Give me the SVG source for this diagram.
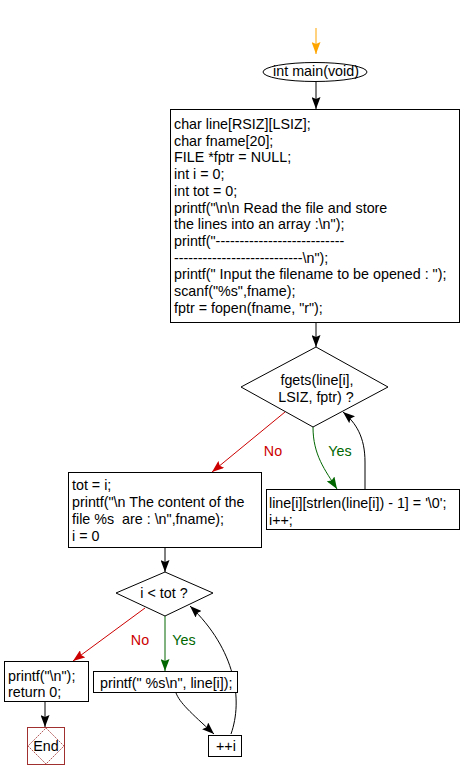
<svg xmlns="http://www.w3.org/2000/svg" width="462" height="780" viewBox="0 0 462 780">
<style>
text{font-family:"Liberation Sans",Arial,sans-serif;font-size:14.3px;fill:#000;white-space:pre}
.box{fill:#fff;stroke:#000;stroke-width:1}
.c{fill:none;stroke-width:1}
.k{stroke:#000}
.r{stroke:#cc0000}
.g{stroke:#006600}
.o{stroke:#ffa500}
.lr{fill:#cc0000}
.lg{fill:#006600}
.mid{text-anchor:middle}
</style>
<defs>
<marker id="ak" markerUnits="userSpaceOnUse" markerWidth="13" markerHeight="9" refX="12" refY="4.5" orient="auto"><path d="M0,0 L12,4.5 L0,9 L2,4.5 z" fill="#000"/></marker>
<marker id="ar" markerUnits="userSpaceOnUse" markerWidth="13" markerHeight="9" refX="12" refY="4.5" orient="auto"><path d="M0,0 L12,4.5 L0,9 L2,4.5 z" fill="#cc0000"/></marker>
<marker id="ag" markerUnits="userSpaceOnUse" markerWidth="13" markerHeight="9" refX="12" refY="4.5" orient="auto"><path d="M0,0 L12,4.5 L0,9 L2,4.5 z" fill="#006600"/></marker>
<marker id="ao" markerUnits="userSpaceOnUse" markerWidth="13" markerHeight="9" refX="12" refY="4.5" orient="auto"><path d="M0,0 L12,4.5 L0,9 L2,4.5 z" fill="#ffa500"/></marker>
</defs>

<g id="connectors">
<line class="c o" x1="316" y1="28" x2="316" y2="54" marker-end="url(#ao)"/>
<line class="c k" x1="316" y1="82" x2="316" y2="109" marker-end="url(#ak)"/>
<line class="c k" x1="316" y1="323" x2="316" y2="347" marker-end="url(#ak)"/>
<line class="c r" x1="285" y1="412" x2="212" y2="472" marker-end="url(#ar)"/>
<path class="c g" d="M313,427 C313,455 325,470 337,489" marker-end="url(#ag)"/>
<path class="c k" d="M365,489 L365,462 C365,437 356,423 343,412" marker-end="url(#ak)"/>
<line class="c k" x1="165" y1="547" x2="165" y2="572" marker-end="url(#ak)"/>
<line class="c r" x1="145" y1="608" x2="73" y2="661" marker-end="url(#ar)"/>
<line class="c g" x1="165" y1="616" x2="165" y2="671" marker-end="url(#ag)"/>
<path class="c k" d="M176,693 C180,703 190,712 214,734" marker-end="url(#ak)"/>
<path class="c k" d="M231,734 C243,700 236,650 190,606" marker-end="url(#ak)"/>
<line class="c k" x1="45" y1="701" x2="45" y2="727" marker-end="url(#ak)"/>
<text class="lr" x="273" y="456" text-anchor="middle">No</text>
<text class="lg" x="340" y="456" text-anchor="middle">Yes</text>
<text class="lr" x="140" y="645" text-anchor="middle">No</text>
<text class="lg" x="184" y="645" text-anchor="middle">Yes</text>
</g>

<g id="start">
<ellipse class="box" cx="315" cy="72" rx="52" ry="9.5"/>
<text class="mid" x="316" y="76">int main(void)</text>
</g>

<g id="decl">
<rect class="box" x="170.5" y="109.5" width="289" height="213"/>
<text x="174" y="129">char line[RSIZ][LSIZ];</text>
<text x="174" y="145.7">char fname[20];</text>
<text x="174" y="162.4">FILE *fptr = NULL;</text>
<text x="174" y="179.1">int i = 0;</text>
<text x="174" y="195.8">int tot = 0;</text>
<text x="174" y="212.5">printf("\n\n Read the file and store</text>
<text x="174" y="229.2">the lines into an array :\n");</text>
<text x="174" y="245.9">printf("---------------------------</text>
<text x="174" y="262.6">---------------------------\n");</text>
<text x="174" y="279.3">printf(" Input the filename to be opened : ");</text>
<text x="174" y="296">scanf("%s",fname);</text>
<text x="174" y="312.7">fptr = fopen(fname, "r");</text>
</g>

<g id="cond1">
<polygon class="box" points="316,347 388,387 313,427 241,387"/>
<text class="mid" x="317" y="385">fgets(line[i],</text>
<text class="mid" x="316" y="402">LSIZ, fptr) ?</text>
</g>

<g id="body1">
<rect class="box" x="266.5" y="489.5" width="193" height="40"/>
<text x="269" y="508">line[i][strlen(line[i]) - 1] = '\0';</text>
<text x="269" y="525">i++;</text>
</g>

<g id="after">
<rect class="box" x="68.5" y="472.5" width="193" height="75"/>
<text x="72" y="489.5">tot = i;</text>
<text x="72" y="506.7">printf("\n The content of the</text>
<text x="72" y="523.9">file %s  are : \n",fname);</text>
<text x="72" y="541.1">i = 0</text>
</g>

<g id="cond2">
<polygon class="box" points="165,572 213,593 165,616 116,593"/>
<text class="mid" x="164" y="598">i &lt; tot ?</text>
</g>

<g id="print">
<rect class="box" x="93.5" y="671.5" width="144" height="21"/>
<text x="100" y="688">printf(" %s\n", line[i]);</text>
</g>

<g id="inc">
<rect class="box" x="208.5" y="735.5" width="33" height="21"/>
<text x="216" y="751">++i</text>
</g>

<g id="ret">
<rect class="box" x="4.5" y="661.5" width="84" height="40"/>
<text x="8" y="681">printf("\n");</text>
<text x="8" y="697">return 0;</text>
</g>

<g id="end">
<rect x="27.5" y="727.5" width="37" height="37" fill="#fff" stroke="#a03030"/>
<polygon points="46,728 64,746 46,764 28,746" fill="none" stroke="#a03030" stroke-width="0.8" stroke-dasharray="2,1"/>
<text class="mid" x="46" y="751">End</text>
</g>
</svg>
